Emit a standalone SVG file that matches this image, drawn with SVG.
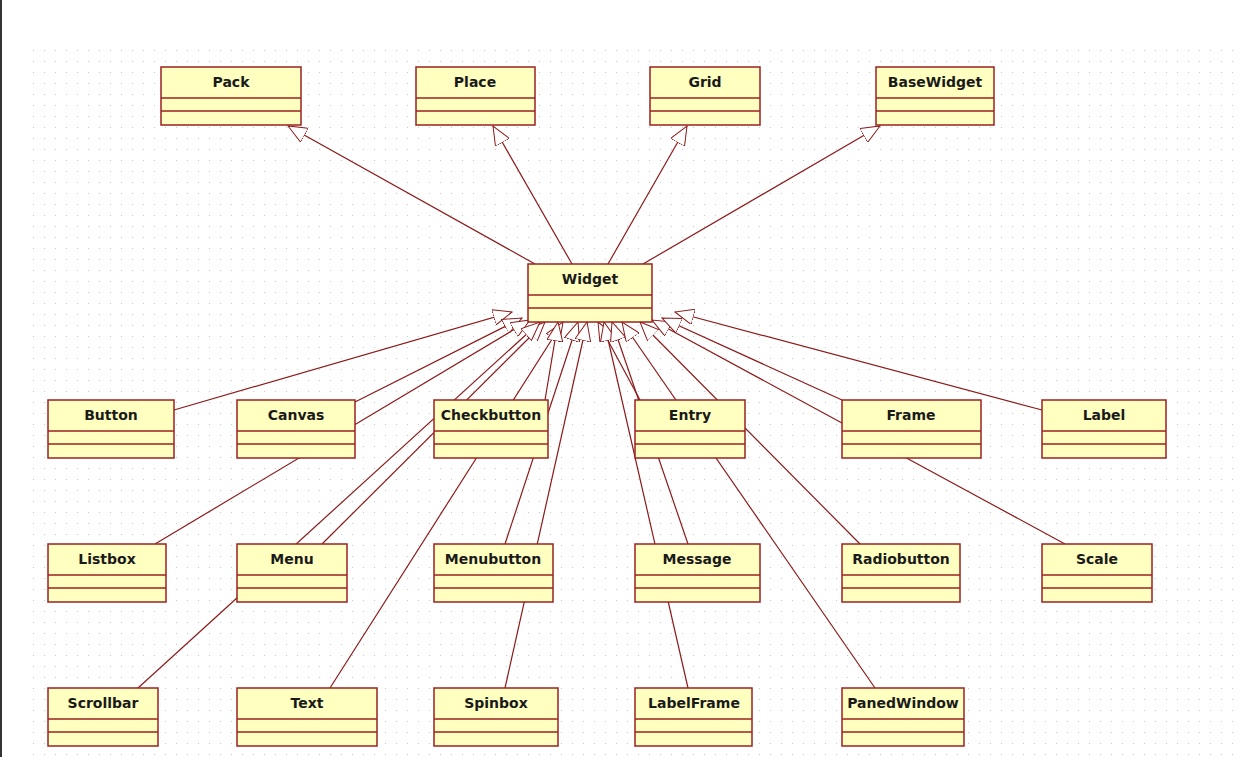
<svg xmlns="http://www.w3.org/2000/svg" width="1246" height="757" viewBox="0 0 1246 757">
<defs>
<pattern id="dots" x="33" y="50" width="11" height="11" patternUnits="userSpaceOnUse"><rect x="0" y="0" width="1" height="1" fill="#c8c8c8"/></pattern>
<marker id="tri" viewBox="0 0 20 16" refX="19" refY="8" markerWidth="20" markerHeight="16" markerUnits="userSpaceOnUse" orient="auto"><path d="M0,0 L19,8 L0,16 Z" fill="#fff" stroke="#8b1a1a" stroke-width="1"/></marker>
</defs>
<style>
.b rect{fill:#ffffc0;stroke:#9b2222;stroke-width:1.5}
.b line{stroke:#9b2222;stroke-width:1.5}
.b text{font-family:"DejaVu Sans",sans-serif;font-weight:bold;font-size:14px;fill:#1a1a1a;text-anchor:middle}
#connectors line{stroke:#8b1a1a;stroke-width:1.2;marker-end:url(#tri)}
</style>
<rect width="1246" height="757" fill="#fff"/>
<rect x="33" y="50" width="1200" height="705" fill="url(#dots)"/>
<rect x="0" y="0" width="2" height="757" fill="#333"/>
<g id="connectors">
<line x1="535" y1="264" x2="288" y2="126"/>
<line x1="572" y1="264" x2="493" y2="126"/>
<line x1="608" y1="264" x2="687" y2="126"/>
<line x1="643" y1="264" x2="880" y2="126"/>
<line x1="174" y1="410" x2="512" y2="312"/>
<line x1="355" y1="402" x2="522" y2="318"/>
<line x1="155" y1="544" x2="530" y2="320"/>
<line x1="322" y1="544" x2="545" y2="322"/>
<line x1="138" y1="688" x2="540" y2="322"/>
<line x1="330" y1="688" x2="563" y2="322"/>
<line x1="545" y1="400" x2="558" y2="322"/>
<line x1="505" y1="544" x2="578" y2="322"/>
<line x1="505" y1="688" x2="587" y2="322"/>
<line x1="640" y1="400" x2="598" y2="322"/>
<line x1="688" y1="688" x2="604" y2="322"/>
<line x1="688" y1="544" x2="612" y2="322"/>
<line x1="875" y1="688" x2="622" y2="322"/>
<line x1="860" y1="544" x2="640" y2="322"/>
<line x1="1065" y1="544" x2="652" y2="320"/>
<line x1="842" y1="400" x2="662" y2="318"/>
<line x1="1042" y1="410" x2="675" y2="312"/>
</g>
<g id="Pack" class="b"><rect x="161" y="67" width="140" height="58"/><line x1="161" y1="98" x2="301" y2="98"/><line x1="161" y1="111" x2="301" y2="111"/><text x="231" y="87">Pack</text></g>
<g id="Place" class="b"><rect x="416" y="67" width="119" height="58"/><line x1="416" y1="98" x2="535" y2="98"/><line x1="416" y1="111" x2="535" y2="111"/><text x="475" y="87">Place</text></g>
<g id="Grid" class="b"><rect x="650" y="67" width="110" height="58"/><line x1="650" y1="98" x2="760" y2="98"/><line x1="650" y1="111" x2="760" y2="111"/><text x="705" y="87">Grid</text></g>
<g id="BaseWidget" class="b"><rect x="876" y="67" width="118" height="58"/><line x1="876" y1="98" x2="994" y2="98"/><line x1="876" y1="111" x2="994" y2="111"/><text x="935" y="87">BaseWidget</text></g>
<g id="Widget" class="b"><rect x="528" y="264" width="124" height="58"/><line x1="528" y1="295" x2="652" y2="295"/><line x1="528" y1="308" x2="652" y2="308"/><text x="590" y="284">Widget</text></g>
<g id="Button" class="b"><rect x="48" y="400" width="126" height="58"/><line x1="48" y1="431" x2="174" y2="431"/><line x1="48" y1="444" x2="174" y2="444"/><text x="111" y="420">Button</text></g>
<g id="Canvas" class="b"><rect x="237" y="400" width="118" height="58"/><line x1="237" y1="431" x2="355" y2="431"/><line x1="237" y1="444" x2="355" y2="444"/><text x="296" y="420">Canvas</text></g>
<g id="Checkbutton" class="b"><rect x="434" y="400" width="114" height="58"/><line x1="434" y1="431" x2="548" y2="431"/><line x1="434" y1="444" x2="548" y2="444"/><text x="491" y="420">Checkbutton</text></g>
<g id="Entry" class="b"><rect x="635" y="400" width="110" height="58"/><line x1="635" y1="431" x2="745" y2="431"/><line x1="635" y1="444" x2="745" y2="444"/><text x="690" y="420">Entry</text></g>
<g id="Frame" class="b"><rect x="842" y="400" width="139" height="58"/><line x1="842" y1="431" x2="981" y2="431"/><line x1="842" y1="444" x2="981" y2="444"/><text x="911" y="420">Frame</text></g>
<g id="Label" class="b"><rect x="1042" y="400" width="124" height="58"/><line x1="1042" y1="431" x2="1166" y2="431"/><line x1="1042" y1="444" x2="1166" y2="444"/><text x="1104" y="420">Label</text></g>
<g id="Listbox" class="b"><rect x="48" y="544" width="118" height="58"/><line x1="48" y1="575" x2="166" y2="575"/><line x1="48" y1="588" x2="166" y2="588"/><text x="107" y="564">Listbox</text></g>
<g id="Menu" class="b"><rect x="237" y="544" width="110" height="58"/><line x1="237" y1="575" x2="347" y2="575"/><line x1="237" y1="588" x2="347" y2="588"/><text x="292" y="564">Menu</text></g>
<g id="Menubutton" class="b"><rect x="434" y="544" width="119" height="58"/><line x1="434" y1="575" x2="553" y2="575"/><line x1="434" y1="588" x2="553" y2="588"/><text x="493" y="564">Menubutton</text></g>
<g id="Message" class="b"><rect x="635" y="544" width="125" height="58"/><line x1="635" y1="575" x2="760" y2="575"/><line x1="635" y1="588" x2="760" y2="588"/><text x="697" y="564">Message</text></g>
<g id="Radiobutton" class="b"><rect x="842" y="544" width="118" height="58"/><line x1="842" y1="575" x2="960" y2="575"/><line x1="842" y1="588" x2="960" y2="588"/><text x="901" y="564">Radiobutton</text></g>
<g id="Scale" class="b"><rect x="1042" y="544" width="110" height="58"/><line x1="1042" y1="575" x2="1152" y2="575"/><line x1="1042" y1="588" x2="1152" y2="588"/><text x="1097" y="564">Scale</text></g>
<g id="Scrollbar" class="b"><rect x="48" y="688" width="110" height="58"/><line x1="48" y1="719" x2="158" y2="719"/><line x1="48" y1="732" x2="158" y2="732"/><text x="103" y="708">Scrollbar</text></g>
<g id="Text" class="b"><rect x="237" y="688" width="140" height="58"/><line x1="237" y1="719" x2="377" y2="719"/><line x1="237" y1="732" x2="377" y2="732"/><text x="307" y="708">Text</text></g>
<g id="Spinbox" class="b"><rect x="434" y="688" width="124" height="58"/><line x1="434" y1="719" x2="558" y2="719"/><line x1="434" y1="732" x2="558" y2="732"/><text x="496" y="708">Spinbox</text></g>
<g id="LabelFrame" class="b"><rect x="635" y="688" width="117" height="58"/><line x1="635" y1="719" x2="752" y2="719"/><line x1="635" y1="732" x2="752" y2="732"/><text x="694" y="708">LabelFrame</text></g>
<g id="PanedWindow" class="b"><rect x="842" y="688" width="122" height="58"/><line x1="842" y1="719" x2="964" y2="719"/><line x1="842" y1="732" x2="964" y2="732"/><text x="903" y="708">PanedWindow</text></g>
</svg>
